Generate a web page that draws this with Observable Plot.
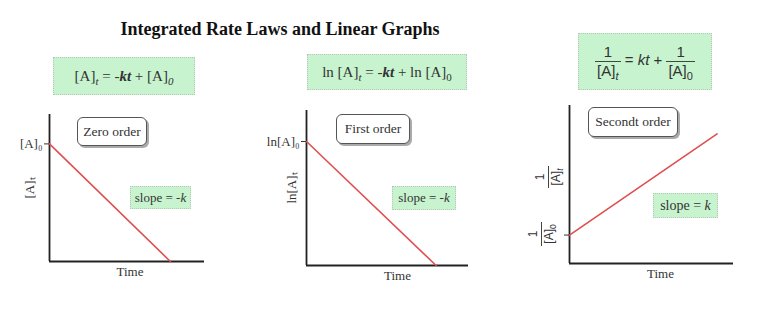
<!DOCTYPE html>
<html>
<head>
<meta charset="utf-8">
<script src="https://cdn.jsdelivr.net/npm/d3@7"></script>
<script src="https://cdn.jsdelivr.net/npm/@observablehq/plot@0.6"></script>
<style>
  html, body { margin: 0; padding: 0; background: #fff; }
  #root { position: relative; width: 768px; height: 311px; background: #fff; overflow: hidden; font-family: "Liberation Serif", "Times New Roman", serif; color: #222; }
  .abs { position: absolute; }
  .title { left: 0; width: 560px; top: 19px; text-align: center; font-weight: bold; font-size: 18px; color: #111; font-family: "Liberation Serif", serif; }
  .eq { background: #c8f3cf; border: 1px dotted #b8c8b8; box-sizing: border-box; display: flex; align-items: center; justify-content: center; font-size: 15px; color: #333; white-space: nowrap; font-family: "Liberation Serif", serif; }
  .eq sub { font-size: 11px; vertical-align: -4px; line-height: 0; }
  .tag { background: #fff; border: 1.3px solid #555; border-radius: 6px; box-sizing: border-box; box-shadow: 2px 2px 0 #aaa; display: flex; align-items: center; justify-content: center; font-size: 13.5px; color: #333; white-space: nowrap; font-family: "Liberation Serif", serif; }
  .slope { background: #c8f3cf; border: 1px dotted #b8c8b8; box-sizing: border-box; display: flex; align-items: center; justify-content: center; font-size: 13px; color: #333; white-space: nowrap; font-family: "Liberation Serif", serif; }
  .frac { display: inline-flex; flex-direction: column; align-items: center; vertical-align: middle; line-height: 1.05; }
  .frac .den { border-top: 1.2px solid #444; padding: 1px 2px 0 2px; }
  .frac .num { padding: 0 2px 1px 2px; }
  .rot { transform: rotate(-90deg); transform-origin: center center; font-size: 12px; color: #333; display: flex; align-items: center; justify-content: center; font-family: "Liberation Sans", Arial, sans-serif; }
  .rot sub { font-size: 8.5px; vertical-align: -3px; line-height: 0; }
  .plotbox { position: absolute; top: 0; }
</style>
</head>
<body>
<div id="root">
  <div class="abs title">Integrated Rate Laws and Linear Graphs</div>

  <div class="abs eq" style="left:53px;top:57px;width:142px;height:38px;"><span>[A]<sub><i>t</i></sub> = -<b><i>kt</i></b> + [A]<sub><i>0</i></sub></span></div>
  <div class="abs eq" style="left:307px;top:54px;width:160px;height:36px;"><span>ln [A]<sub><i>t</i></sub> = -<b><i>kt</i></b> + ln [A]<sub>0</sub></span></div>
  <div class="abs eq" style="left:578px;top:33px;width:134px;height:57px;font-size:15px;font-family:'Liberation Sans',Arial,sans-serif;"><span><span class="frac"><span class="num">1</span><span class="den">[A]<sub><i>t</i></sub></span></span> = <i>kt</i> + <span class="frac"><span class="num">1</span><span class="den">[A]<sub>0</sub></span></span></span></div>

  <div id="p1" class="plotbox" style="left:0px;"></div>
  <div id="p2" class="plotbox" style="left:256px;"></div>
  <div id="p3" class="plotbox" style="left:512px;"></div>

  <div class="abs tag" style="left:77px;top:117px;width:70px;height:29px;"><span>Zero order</span></div>
  <div class="abs tag" style="left:336px;top:114px;width:74px;height:30px;"><span>First order</span></div>
  <div class="abs tag" style="left:588px;top:107px;width:90px;height:30px;"><span>Secondt order</span></div>

  <div class="abs slope" style="left:130px;top:186px;width:61px;height:23px;"><span>slope = -<i>k</i></span></div>
  <div class="abs slope" style="left:392px;top:186px;width:64px;height:24px;"><span>slope = -<i>k</i></span></div>
  <div class="abs slope" style="left:653px;top:193px;width:65px;height:25px;font-size:14px;"><span>slope = <i>k</i></span></div>

  <div class="abs rot" style="left:526px;top:161px;width:44px;height:32px;"><span class="frac"><span class="num">1</span><span class="den">[A]<sub><i>t</i></sub></span></span></div>
  <div class="abs rot" style="left:519px;top:218px;width:44px;height:32px;"><span class="frac"><span class="num">1</span><span class="den">[A]<sub>0</sub></span></span></div>
</div>
<script>
// Data (arbitrary units)
const zeroTime = [0, 7.8];
const zeroConc = [0.8, 0];          // [A]t
const firstTime = [0, 8];
const firstLnConc = [0.8, 0];       // ln[A]t
const secondTime = [0, 9];
const secondInvConc = [0.18, 0.82]; // 1/[A]t

const zeroTickValue = [0.8];
const firstTickValue = [0.8];
const secondTickValue = [0.18];

const timeDomain = [0, 10];
const valueDomain = [0, 1];

const lineColor = "#e04f4f";
const axisColor = "#222";

function panel({time, values, ticks, tickLabel, yLabel, labelOffset, mL, mR, mT, mB, timeDx}) {
  const data = time.map((t, i) => ({t, v: values[i]}));
  return Plot.plot({
    width: 256,
    height: 311,
    marginLeft: mL,
    marginRight: mR,
    marginTop: mT,
    marginBottom: mB,
    style: {fontFamily: "Liberation Serif, serif", fontSize: "13px", color: "#333", background: "transparent"},
    x: {domain: timeDomain, axis: null},
    y: {domain: valueDomain},
    marks: [
      Plot.axisY({
        ticks,
        tickFormat: () => tickLabel,
        tickSize: 5,
        tickPadding: 2,
        fontSize: 13,
        label: yLabel,
        labelAnchor: "center",
        labelArrow: "none",
        labelOffset
      }),
      Plot.ruleX([0], {stroke: axisColor, strokeWidth: 1.8}),
      Plot.ruleY([0], {stroke: axisColor, strokeWidth: 1.8}),
      Plot.line(data, {x: "t", y: "v", stroke: lineColor, strokeWidth: 1.6}),
      Plot.text(["Time"], {frameAnchor: "bottom", dy: 14, dx: timeDx, fontSize: 13, fill: "#333"})
    ]
  });
}

document.getElementById("p1").appendChild(panel({
  time: zeroTime, values: zeroConc, ticks: zeroTickValue, tickLabel: "[A]₀",
  yLabel: "[A]ₜ", labelOffset: 25, mL: 49, mR: 52, mT: 114, mB: 50, timeDx: 3
}));
document.getElementById("p2").appendChild(panel({
  time: firstTime, values: firstLnConc, ticks: firstTickValue, tickLabel: "ln[A]₀",
  yLabel: "ln[A]ₜ", labelOffset: 20, mL: 50, mR: 44, mT: 110, mB: 46, timeDx: 10
}));
document.getElementById("p3").appendChild(panel({
  time: secondTime, values: secondInvConc, ticks: secondTickValue, tickLabel: "",
  yLabel: null, labelOffset: 20, mL: 57, mR: 35, mT: 105, mB: 48, timeDx: 9
}));
</script>
</body>
</html>
